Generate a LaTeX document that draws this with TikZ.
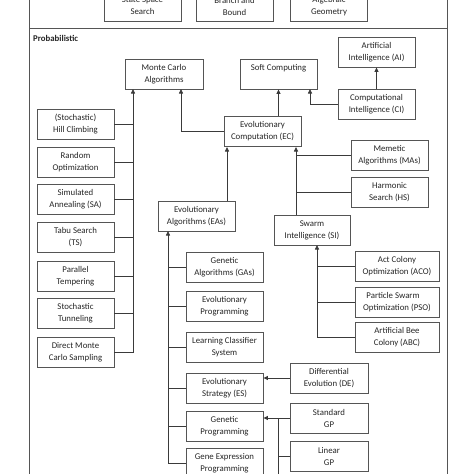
\documentclass[tikz,border=0pt]{standalone}
\usepackage{fontspec}
\setmainfont{Carlito}
\usetikzlibrary{arrows.meta}
\definecolor{boxc}{HTML}{555555}
\definecolor{linec}{HTML}{3A3A3A}
\definecolor{txtc}{HTML}{262626}
\tikzset{
  box/.style={draw=boxc, line width=0.85pt, minimum width=77pt, minimum height=30pt, inner sep=0pt, align=center, text=txtc, font=\fontsize{8.8}{12}\selectfont},
  wbox/.style={box, minimum width=84pt},
  conn/.style={draw=linec, line width=0.8pt},
  arr/.style={conn, -{Triangle[length=4.5pt,width=4pt]}},
  frame/.style={draw=boxc, line width=0.9pt}
}
\begin{document}
\begin{tikzpicture}[x=1pt,y=-1pt]
\clip (0,0) rectangle (474,474);
\fill[white] (0,0) rectangle (474,474);
% frame
\draw[frame] (29,-10) rectangle (447,490);
\draw[frame] (29,28) -- (447,28);
\node[anchor=west, inner sep=0pt, text=txtc, font=\fontsize{8.8}{12}\selectfont\bfseries] (prob) at (33,38) {Probabilistic};
% top (cut) boxes
\node[box] (sss) at (142.5,6) {State Space\\Search};
\node[box] (bnb) at (234.5,6) {Branch and\\Bound};
\node[box] (ag) at (329,6) {Algebraic\\Geometry};
% main boxes
\node[box, minimum width=78pt] (mc) at (164,74) {Monte Carlo\\Algorithms};
\node[box] (sc) at (278.5,74) {Soft Computing\\\phantom{Ag}};
\node[box] (ai) at (376.5,52) {Artificial\\Intelligence (AI)};
\node[box] (ci) at (376.5,104) {Computational\\Intelligence (CI)};
\node[box] (ec) at (262.5,131.5) {Evolutionary\\Computation (EC)};
% left column
\node[box] (hc) at (75.5,124.5) {(Stochastic)\\Hill Climbing};
\node[box] (ro) at (75.5,162) {Random\\Optimization};
\node[box] (sa) at (75.5,199) {Simulated\\Annealing (SA)};
\node[box] (ts) at (75.5,237) {Tabu Search\\(TS)};
\node[box] (pt) at (75.5,276) {Parallel\\Tempering};
\node[box] (st) at (75.5,313) {Stochastic\\Tunneling};
\node[box] (dm) at (75.5,352) {Direct Monte\\Carlo Sampling};
% EAs
\node[box] (eas) at (196.5,216) {Evolutionary\\Algorithms (EAs)};
\node[box] (ga) at (224.5,267) {Genetic\\Algorithms (GAs)};
\node[box] (ep) at (224.5,306) {Evolutionary\\Programming};
\node[box] (lcs) at (224.5,347.5) {Learning Classifier\\System};
\node[box] (es) at (224.5,388) {Evolutionary\\Strategy (ES)};
\node[box] (gp) at (224.5,426) {Genetic\\Programming};
\node[box] (gep) at (224.5,463) {Gene Expression\\Programming};
\node[box, minimum width=78pt] (de) at (329,378) {Differential\\Evolution (DE)};
\node[box, minimum width=78pt] (sgp) at (329,418) {Standard\\GP};
\node[box, minimum width=78pt] (lgp) at (329,456) {Linear\\GP};
% right
\node[box] (mas) at (389.5,155) {Memetic\\Algorithms (MAs)};
\node[box] (hs) at (389.5,192) {Harmonic\\Search (HS)};
\node[box, minimum width=76pt] (si) at (312,230) {Swarm\\Intelligence (SI)};
\node[wbox] (aco) at (397,266) {Act Colony\\Optimization (ACO)};
\node[wbox] (pso) at (397,302) {\hspace*{-8pt}Particle Swarm\\Optimization (PSO)};
\node[wbox] (abc) at (397,337) {Artificial Bee\\Colony (ABC)};
% coordinates
\coordinate (mcin) at (133,89);
\coordinate (mcin2) at (181,89);
\coordinate (scin) at (310,89);
\coordinate (ecin1) at (227,147);
\coordinate (ecin2) at (296,147);
\coordinate (easin) at (168,231);
\coordinate (siin) at (317,245);
\coordinate (gpt) at (278,490);
% connectors
\draw[arr] (ci.north) -- (ai.south);
\draw[arr] (ci.west) -| (scin);
\draw[arr] (sc.south |- ec.north) -- (sc.south);
\draw[arr] (ec.west) -| (mcin2);
\draw[arr] (dm.east) -| (mcin);
\foreach \n in {hc,ro,sa,ts,pt,st} \draw[conn] (\n.east) -- (\n.east -| mcin);
\draw[arr] (eas.north -| ecin1) -- (ecin1);
\draw[arr] (si.north -| ecin2) -- (ecin2);
\draw[conn] (mas.west) -- (mas.west -| ecin2);
\draw[conn] (hs.west) -- (hs.west -| ecin2);
\draw[arr] (gep.west) -| (easin);
\foreach \n in {ga,ep,lcs,es,gp} \draw[conn] (\n.west) -- (\n.west -| easin);
\draw[arr] (abc.west) -| (siin);
\draw[conn] (aco.west) -- (aco.west -| siin);
\draw[conn] (pso.west) -- (pso.west -| siin);
\draw[arr] (de.west) -- (de.west -| es.east);
\draw[arr] (sgp.west) -- (sgp.west -| gp.east);
\draw[conn] (sgp.west -| gpt) -- (gpt);
\draw[conn] (lgp.west) -- (lgp.west -| gpt);
\end{tikzpicture}
\end{document}
